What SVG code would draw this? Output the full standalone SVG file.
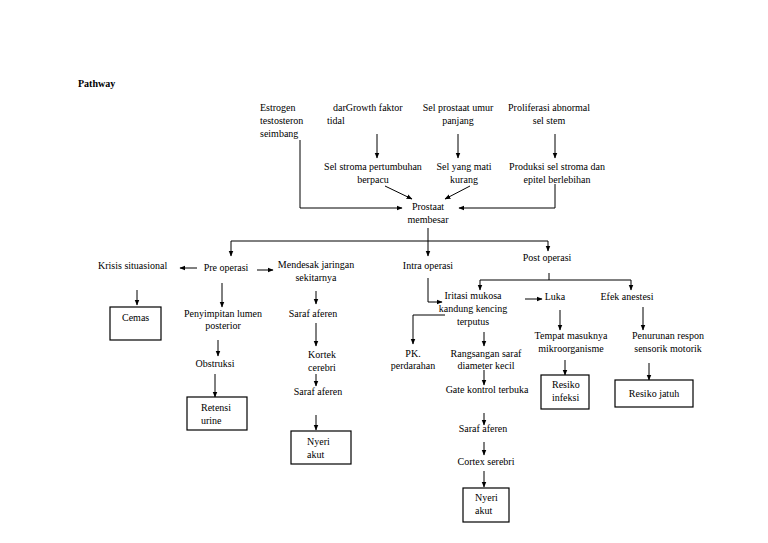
<svg xmlns="http://www.w3.org/2000/svg" width="768" height="543" viewBox="0 0 768 543" font-family="'Liberation Serif', 'Times New Roman', serif" font-size="10">
<defs><marker id="a" viewBox="0 0 10 10" refX="9" refY="5" markerWidth="6" markerHeight="6" orient="auto"><path d="M0,1 L10,5 L0,9 z" fill="#000"/></marker></defs>
<style>
text{font-family:'Liberation Serif','Times New Roman',serif;font-size:10px;fill:#000}
.c{text-anchor:middle}
.l{fill:none;stroke:#000;stroke-width:1;marker-end:url(#a)}
.p{fill:none;stroke:#000;stroke-width:1}
.b{fill:#fff;stroke:#000;stroke-width:1.2}
</style>
<rect width="768" height="543" fill="#fff"/>
<text x="78" y="87" font-weight="bold">Pathway</text>
<g id="connectors">
<path class="l" d="M377,134V158"/><path class="l" d="M458,134V158"/><path class="l" d="M555,134V158"/>
<path class="l" d="M300,140V208H402"/><path class="l" d="M555,184V208H459"/>
<path class="l" d="M385,186L412,199"/><path class="l" d="M470,186L445,199"/>
<path class="p" d="M428,228V241"/><path class="p" d="M231,241H548"/>
<path class="l" d="M231,241V256"/><path class="l" d="M428,241V256"/><path class="l" d="M548,241V251"/>
<path class="l" d="M197,268H180"/><path class="l" d="M257,270H273"/>
<path class="l" d="M137,290V305"/><path class="l" d="M222,283V307"/><path class="l" d="M218,340V356"/><path class="l" d="M215,374V397"/>
<path class="l" d="M316,291V304"/><path class="l" d="M316,323V346"/><path class="l" d="M316,374V386"/><path class="l" d="M316,415V430"/>
<path class="l" d="M428,278V302H442"/>
<path class="p" d="M549,273V280"/><path class="p" d="M480,280H631"/>
<path class="l" d="M480,280V290"/><path class="l" d="M631,280V290"/>
<path class="l" d="M525,299H542"/>
<path class="l" d="M445,315H413V344"/>
<path class="l" d="M484,332V346"/><path class="l" d="M484,370V385"/><path class="l" d="M484,413V425"/><path class="l" d="M484,442V455"/><path class="l" d="M484,471V487"/>
<path class="l" d="M560,310V330"/><path class="l" d="M565,360V375"/>
<path class="l" d="M643,307V330"/><path class="l" d="M649,363V380"/>
</g>
<g id="n1"><text x="260" y="111">Estrogen</text><text x="260" y="124">testosteron</text><text x="260" y="137">seimbang</text></g>
<g id="n2"><text x="333" y="111">darGrowth faktor</text><text x="327" y="124">tidal</text></g>
<g id="n3"><text class="c" x="458" y="111">Sel prostaat umur</text><text class="c" x="458" y="124">panjang</text></g>
<g id="n4"><text class="c" x="549" y="111">Proliferasi abnormal</text><text class="c" x="549" y="124">sel stem</text></g>
<g id="n5"><text class="c" x="373" y="170">Sel stroma pertumbuhan</text><text class="c" x="373" y="183">berpacu</text></g>
<g id="n6"><text class="c" x="464" y="170">Sel yang mati</text><text class="c" x="464" y="183">kurang</text></g>
<g id="n7"><text class="c" x="557" y="170">Produksi sel stroma dan</text><text class="c" x="557" y="183">epitel berlebihan</text></g>
<g id="n8"><text class="c" x="428" y="210">Prostaat</text><text class="c" x="428" y="223">membesar</text></g>
<g id="n9"><text x="98" y="269">Krisis situasional</text></g>
<g id="n10"><text class="c" x="226" y="271">Pre operasi</text></g>
<g id="n11"><text class="c" x="316" y="268">Mendesak jaringan</text><text class="c" x="316" y="281">sekitarnya</text></g>
<g id="n12"><text class="c" x="428" y="269">Intra operasi</text></g>
<g id="n13"><text class="c" x="547" y="261">Post operasi</text></g>
<g id="n14"><rect class="b" x="110" y="307" width="51" height="33"/><text x="122" y="321">Cemas</text></g>
<g id="n15"><text class="c" x="223" y="317">Penyimpitan lumen</text><text class="c" x="223" y="329">posterior</text></g>
<g id="n16"><text class="c" x="215" y="367">Obstruksi</text></g>
<g id="n17"><rect class="b" x="187" y="397" width="60" height="33"/><text x="201" y="411">Retensi</text><text x="201" y="424">urine</text></g>
<g id="n18"><text class="c" x="313" y="317">Saraf aferen</text></g>
<g id="n19"><text class="c" x="322" y="358">Kortek</text><text class="c" x="322" y="371">cerebri</text></g>
<g id="n20"><text class="c" x="318" y="395">Saraf aferen</text></g>
<g id="n21"><rect class="b" x="291" y="431" width="60" height="33"/><text x="307" y="445">Nyeri</text><text x="307" y="458">akut</text></g>
<g id="n22"><text class="c" x="473" y="299">Iritasi mukosa</text><text class="c" x="473" y="312">kandung kencing</text><text class="c" x="473" y="325">terputus</text></g>
<g id="n23"><text class="c" x="555" y="300">Luka</text></g>
<g id="n24"><text class="c" x="627" y="300">Efek anestesi</text></g>
<g id="n25"><text class="c" x="413" y="357">PK.</text><text class="c" x="413" y="369">perdarahan</text></g>
<g id="n26"><text class="c" x="486" y="357">Rangsangan saraf</text><text class="c" x="486" y="369">diameter kecil</text></g>
<g id="n27"><text class="c" x="487" y="393">Gate kontrol terbuka</text></g>
<g id="n28"><text class="c" x="483" y="432">Saraf aferen</text></g>
<g id="n29"><text class="c" x="486" y="465">Cortex serebri</text></g>
<g id="n30"><rect class="b" x="463" y="488" width="46" height="34"/><text x="475" y="501">Nyeri</text><text x="475" y="514">akut</text></g>
<g id="n31"><text class="c" x="571" y="339">Tempat masuknya</text><text class="c" x="571" y="352">mikroorganisme</text></g>
<g id="n32"><rect class="b" x="541" y="375" width="48" height="34"/><text x="552" y="388">Resiko</text><text x="552" y="401">infeksi</text></g>
<g id="n33"><text class="c" x="668" y="339">Penurunan respon</text><text class="c" x="668" y="352">sensorik motorik</text></g>
<g id="n34"><rect class="b" x="615" y="380" width="78" height="27"/><text class="c" x="654" y="397">Resiko jatuh</text></g>
</svg>
